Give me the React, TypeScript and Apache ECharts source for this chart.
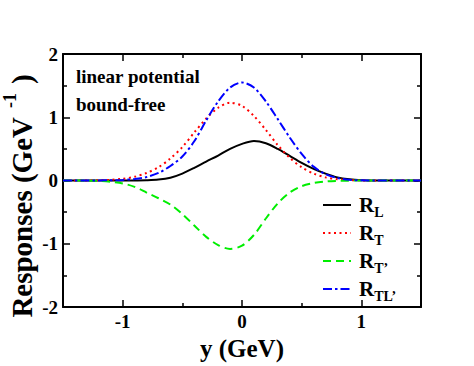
import React, { useEffect, useRef } from "react";
import * as echarts from "echarts";

// x coordinate: y (GeV)
const yGeV: number[] = [
  -1.5, -1.4, -1.3, -1.2, -1.1, -1.0, -0.9, -0.8, -0.7, -0.6, -0.5, -0.4, -0.3, -0.2, -0.1, 0.0,
  0.1, 0.2, 0.3, 0.4, 0.5, 0.6, 0.7, 0.8, 0.9, 1.0, 1.1, 1.2, 1.3, 1.4, 1.5,
];

// R_L (black solid)
const rL: number[] = [
  0, 0, 0, 0, 0, 0, 0.002, 0.005, 0.015, 0.045, 0.11, 0.2, 0.3, 0.395, 0.5, 0.58,
  0.625, 0.59, 0.5, 0.39, 0.28, 0.185, 0.11, 0.05, 0.02, 0.006, 0.002, 0, 0, 0, 0,
];

// R_T (red dotted)
const rT: number[] = [
  0, 0, 0.002, 0.005, 0.012, 0.028, 0.06, 0.12, 0.21, 0.35, 0.53, 0.76, 0.98, 1.15, 1.23, 1.18,
  1.02, 0.8, 0.56, 0.36, 0.21, 0.11, 0.05, 0.02, 0.007, 0.002, 0, 0, 0, 0, 0,
];

// R_T' (green dashed)
const rTp: number[] = [
  0, 0, -0.002, -0.006, -0.02, -0.045, -0.1, -0.19, -0.28, -0.38, -0.53, -0.71, -0.89, -1.02, -1.08, -1.03,
  -0.86, -0.6, -0.36, -0.19, -0.09, -0.04, -0.015, -0.005, -0.002, 0, 0, 0, 0, 0, 0,
];

// R_TL' (blue dash-dot)
const rTLp: number[] = [
  0, 0, 0, 0.002, 0.005, 0.01, 0.025, 0.055, 0.12, 0.23, 0.38, 0.62, 0.95, 1.25, 1.47, 1.55,
  1.47, 1.25, 0.97, 0.68, 0.42, 0.22, 0.1, 0.04, 0.012, 0.003, 0, 0, 0, 0, 0,
];

const xMajorTicks: number[] = [-1, 0, 1];
const xMinorTicks: number[] = [-0.5, 0.5];
const seriesNames: string[] = ["L", "T", "T’", "TL’"];

const FONT = "'Liberation Serif', 'Times New Roman', serif";

export default function App() {
  const ref = useRef<HTMLDivElement>(null);

  useEffect(() => {
    document.body.style.margin = "0";
    if (!ref.current) return;
    const chart = echarts.init(ref.current, null, { renderer: "svg" });

    const pair = (arr: number[]) => yGeV.map((x, i) => [x, arr[i]]);

    const labelStyle = {
      fontFamily: FONT,
      fontWeight: "bold" as const,
      fontSize: 19,
      color: "#000",
    };

    const baseX = {
      type: "value" as const,
      min: -1.5,
      max: 1.5,
      interval: 0.5,
      splitLine: { show: false },
    };

    const tickLine = { color: "#000", width: 1.5 };

    const option: any = {
      animation: false,
      backgroundColor: "#fff",
      grid: { left: 63, right: 53, top: 54, bottom: 54 },
      xAxis: [
        {
          ...baseX,
          position: "bottom",
          axisLine: { show: true, onZero: false, lineStyle: { color: "#000", width: 2 } },
          axisTick: { show: true, inside: true, length: 7, customValues: xMajorTicks, lineStyle: tickLine },
          axisLabel: { ...labelStyle, margin: 5, customValues: xMajorTicks, formatter: (v: number) => String(v) },
          name: "y (GeV)",
          nameLocation: "middle",
          nameGap: 22,
          nameTextStyle: { fontFamily: FONT, fontWeight: "bold", fontSize: 25, color: "#000" },
        },
        {
          ...baseX,
          position: "bottom",
          axisLine: { show: false, onZero: false },
          axisTick: { show: true, inside: true, length: 4, customValues: xMinorTicks, lineStyle: tickLine },
          axisLabel: { show: false },
        },
        {
          ...baseX,
          position: "top",
          axisLine: { show: true, onZero: false, lineStyle: { color: "#000", width: 2 } },
          axisTick: { show: true, inside: true, length: 7, customValues: xMajorTicks, lineStyle: tickLine },
          axisLabel: { show: false },
        },
        {
          ...baseX,
          position: "top",
          axisLine: { show: false, onZero: false },
          axisTick: { show: true, inside: true, length: 4, customValues: xMinorTicks, lineStyle: tickLine },
          axisLabel: { show: false },
        },
      ],
      yAxis: [
        {
          type: "value",
          position: "left",
          min: -2,
          max: 2,
          interval: 1,
          axisLine: { show: true, onZero: false, lineStyle: { color: "#000", width: 2 } },
          axisTick: { show: true, inside: true, length: 7, lineStyle: tickLine },
          minorTick: { show: true, splitNumber: 2, length: 4, lineStyle: tickLine },
          axisLabel: { ...labelStyle, margin: 5, padding: [7, 0, 0, 0] },
          splitLine: { show: false },
          minorSplitLine: { show: false },
        },
        {
          type: "value",
          position: "right",
          min: -2,
          max: 2,
          interval: 1,
          axisLine: { show: true, onZero: false, lineStyle: { color: "#000", width: 2 } },
          axisTick: { show: true, inside: true, length: 7, lineStyle: tickLine },
          minorTick: { show: true, splitNumber: 2, length: 4, lineStyle: tickLine },
          axisLabel: { show: false },
          splitLine: { show: false },
          minorSplitLine: { show: false },
        },
      ],
      legend: {
        orient: "vertical",
        left: 322,
        top: 191,
        padding: 0,
        itemGap: 0,
        itemWidth: 28,
        itemHeight: 14,
        data: seriesNames,
        itemStyle: { color: "rgba(0,0,0,0)", borderWidth: 0, opacity: 0 },
        formatter: (name: string) => `{r|R}{s|${name}}`,
        textStyle: {
          color: "#000",
          rich: {
            r: { fontFamily: FONT, fontWeight: "bold", fontSize: 21, lineHeight: 28, color: "#000", padding: [0, 0, 0, 3] },
            s: { fontFamily: FONT, fontWeight: "bold", fontSize: 14, lineHeight: 14, color: "#000", padding: [14, 0, 0, 0] },
          },
        },
      },
      series: [
        {
          name: seriesNames[0],
          type: "line",
          data: pair(rL),
          symbol: "none",
          smooth: 0.3,
          lineStyle: { color: "#000000", width: 2, type: "solid" },
          itemStyle: { color: "#000000" },
        },
        {
          name: seriesNames[1],
          type: "line",
          data: pair(rT),
          symbol: "none",
          smooth: 0.3,
          lineStyle: { color: "#ff0000", width: 2, type: [2, 3.5] },
          itemStyle: { color: "#ff0000" },
        },
        {
          name: seriesNames[2],
          type: "line",
          data: pair(rTp),
          symbol: "none",
          smooth: 0.3,
          lineStyle: { color: "#00ee00", width: 2, type: [8, 5] },
          itemStyle: { color: "#00ee00" },
        },
        {
          name: seriesNames[3],
          type: "line",
          data: pair(rTLp),
          symbol: "none",
          smooth: 0.3,
          lineStyle: { color: "#0000ff", width: 2, type: [9, 3, 2.5, 3] },
          itemStyle: { color: "#0000ff" },
        },
      ],
      graphic: [
        {
          type: "text",
          x: 76,
          y: 67,
          style: {
            text: "linear potential",
            font: `bold 19px ${FONT}`,
            fill: "#000",
          },
        },
        {
          type: "text",
          x: 76,
          y: 95,
          style: {
            text: "bound-free",
            font: `bold 19px ${FONT}`,
            fill: "#000",
          },
        },
        {
          type: "text",
          x: 22,
          y: 196,
          rotation: Math.PI / 2,
          style: {
            text: "{a|Responses (GeV}{s|  -1  }{a|)}",
            align: "center",
            verticalAlign: "middle",
            fill: "#000",
            rich: {
              a: { fontFamily: FONT, fontWeight: "bold", fontSize: 29, lineHeight: 30, fill: "#000" },
              s: { fontFamily: FONT, fontWeight: "bold", fontSize: 18, lineHeight: 18, padding: [0, 0, 24, 0], fill: "#000" },
            },
          },
        },
      ],
    };

    chart.setOption(option);
    return () => chart.dispose();
  }, []);

  return (
    <div
      ref={ref}
      style={{ position: "fixed", left: 0, top: 0, width: 474, height: 366, background: "#fff" }}
    />
  );
}
